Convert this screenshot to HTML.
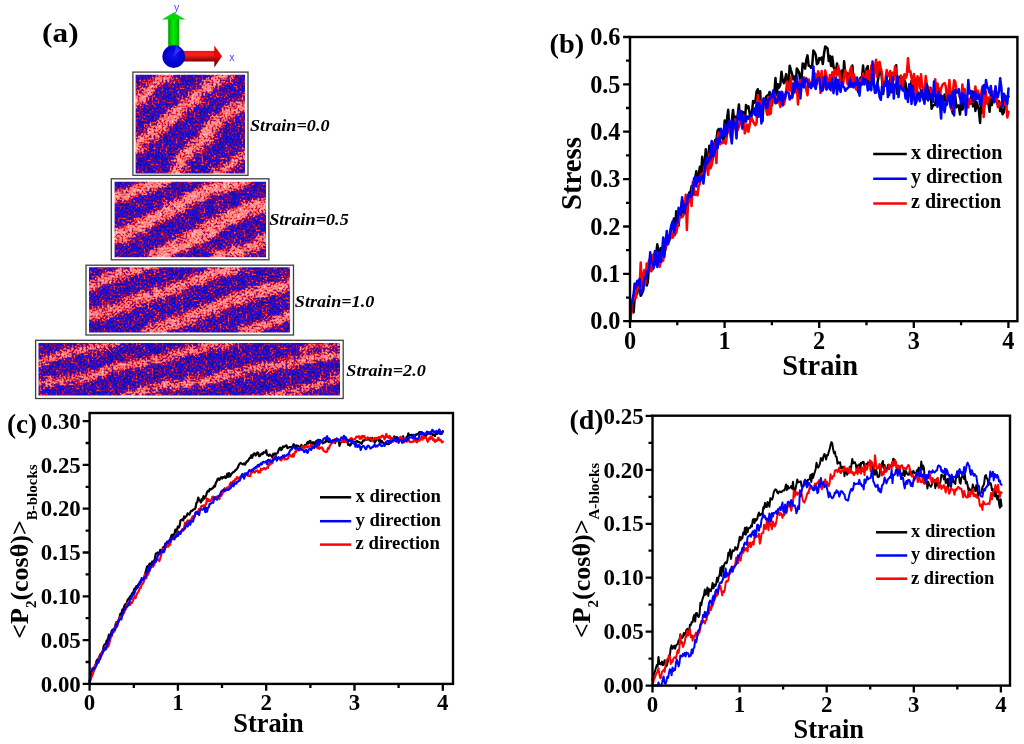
<!DOCTYPE html>
<html lang="en"><head><meta charset="utf-8"><title>Figure</title>
<style>
html,body{margin:0;padding:0;background:#fff}
body{width:1024px;height:744px;overflow:hidden}
svg{display:block}
svg text{font-family:'Liberation Serif',serif;font-weight:bold;fill:#000}
</style></head><body>
<svg width="1024" height="744" viewBox="0 0 1024 744">
<defs>
<linearGradient id="gG" x1="0" x2="1" y1="0" y2="0"><stop offset="0" stop-color="#009a00"/><stop offset="0.45" stop-color="#00f000"/><stop offset="1" stop-color="#00a800"/></linearGradient>
<linearGradient id="gR" x1="0" x2="0" y1="0" y2="1"><stop offset="0" stop-color="#f01010"/><stop offset="0.35" stop-color="#ff2020"/><stop offset="1" stop-color="#7a0000"/></linearGradient>
<linearGradient id="gR2" x1="0" x2="0" y1="0" y2="1"><stop offset="0" stop-color="#e00000"/><stop offset="0.5" stop-color="#e80808"/><stop offset="1" stop-color="#300000"/></linearGradient>
<radialGradient id="gB" cx="0.5" cy="0.45" r="0.6"><stop offset="0" stop-color="#1414e6"/><stop offset="0.7" stop-color="#0000cc"/><stop offset="1" stop-color="#0000a0"/></radialGradient>
<filter id="tex0" x="0" y="0" width="1" height="1" color-interpolation-filters="sRGB">
<feTurbulence type="fractalNoise" baseFrequency="0.05" numOctaves="2" seed="103" result="lf"/>
<feDisplacementMap in="SourceGraphic" in2="lf" scale="0" xChannelSelector="R" yChannelSelector="G" result="wav"/>
<feGaussianBlur in="wav" stdDeviation="3.0" result="fld"/>
<feTurbulence type="fractalNoise" baseFrequency="0.13" numOctaves="2" seed="203" result="mz"/>
<feColorMatrix in="mz" type="matrix" values="0 2.2 0 0 -0.6  0 2.2 0 0 -0.6  0 2.2 0 0 -0.6  0 0 0 0 1" result="m1"/>
<feComposite in="fld" in2="m1" operator="arithmetic" k1="0" k2="0.7" k3="0.36" k4="-0.03" result="fld2"/>
<feTurbulence type="fractalNoise" baseFrequency="0.5" numOctaves="1" seed="3" result="nz"/>
<feColorMatrix in="nz" type="matrix" values="2.6 0 0 0 -0.8  2.6 0 0 0 -0.8  2.6 0 0 0 -0.8  0 0 0 0 1" result="n1"/>
<feComposite in="fld2" in2="n1" operator="arithmetic" k1="0" k2="0.6" k3="0.4" k4="-0.05" result="sum"/>
<feComponentTransfer in="sum" result="col">
<feFuncR type="discrete" tableValues="0.03 0.05 0.08 0.26 0.46 0.72 0.95 1 1 1 1 1"/>
<feFuncG type="discrete" tableValues="0 0 0 0 0 0.04 0.20 0.40 0.50 0.56 0.64 0.74"/>
<feFuncB type="discrete" tableValues="0.62 0.8 0.85 0.60 0.40 0.25 0.22 0.40 0.50 0.56 0.64 0.74"/>
</feComponentTransfer>
<feGaussianBlur in="col" stdDeviation="0.65"/>
</filter>
<filter id="tex1" x="0" y="0" width="1" height="1" color-interpolation-filters="sRGB">
<feTurbulence type="fractalNoise" baseFrequency="0.05" numOctaves="2" seed="107" result="lf"/>
<feDisplacementMap in="SourceGraphic" in2="lf" scale="0" xChannelSelector="R" yChannelSelector="G" result="wav"/>
<feGaussianBlur in="wav" stdDeviation="2.9" result="fld"/>
<feTurbulence type="fractalNoise" baseFrequency="0.13" numOctaves="2" seed="207" result="mz"/>
<feColorMatrix in="mz" type="matrix" values="0 2.2 0 0 -0.6  0 2.2 0 0 -0.6  0 2.2 0 0 -0.6  0 0 0 0 1" result="m1"/>
<feComposite in="fld" in2="m1" operator="arithmetic" k1="0" k2="0.7" k3="0.36" k4="-0.03" result="fld2"/>
<feTurbulence type="fractalNoise" baseFrequency="0.5" numOctaves="1" seed="7" result="nz"/>
<feColorMatrix in="nz" type="matrix" values="2.6 0 0 0 -0.8  2.6 0 0 0 -0.8  2.6 0 0 0 -0.8  0 0 0 0 1" result="n1"/>
<feComposite in="fld2" in2="n1" operator="arithmetic" k1="0" k2="0.6" k3="0.4" k4="-0.05" result="sum"/>
<feComponentTransfer in="sum" result="col">
<feFuncR type="discrete" tableValues="0.03 0.05 0.08 0.26 0.46 0.72 0.95 1 1 1 1 1"/>
<feFuncG type="discrete" tableValues="0 0 0 0 0 0.04 0.20 0.40 0.50 0.56 0.64 0.74"/>
<feFuncB type="discrete" tableValues="0.62 0.8 0.85 0.60 0.40 0.25 0.22 0.40 0.50 0.56 0.64 0.74"/>
</feComponentTransfer>
<feGaussianBlur in="col" stdDeviation="0.65"/>
</filter>
<filter id="tex2" x="0" y="0" width="1" height="1" color-interpolation-filters="sRGB">
<feTurbulence type="fractalNoise" baseFrequency="0.05" numOctaves="2" seed="111" result="lf"/>
<feDisplacementMap in="SourceGraphic" in2="lf" scale="0" xChannelSelector="R" yChannelSelector="G" result="wav"/>
<feGaussianBlur in="wav" stdDeviation="2.6" result="fld"/>
<feTurbulence type="fractalNoise" baseFrequency="0.13" numOctaves="2" seed="211" result="mz"/>
<feColorMatrix in="mz" type="matrix" values="0 2.2 0 0 -0.6  0 2.2 0 0 -0.6  0 2.2 0 0 -0.6  0 0 0 0 1" result="m1"/>
<feComposite in="fld" in2="m1" operator="arithmetic" k1="0" k2="0.7" k3="0.36" k4="-0.03" result="fld2"/>
<feTurbulence type="fractalNoise" baseFrequency="0.5" numOctaves="1" seed="11" result="nz"/>
<feColorMatrix in="nz" type="matrix" values="2.6 0 0 0 -0.8  2.6 0 0 0 -0.8  2.6 0 0 0 -0.8  0 0 0 0 1" result="n1"/>
<feComposite in="fld2" in2="n1" operator="arithmetic" k1="0" k2="0.6" k3="0.4" k4="-0.05" result="sum"/>
<feComponentTransfer in="sum" result="col">
<feFuncR type="discrete" tableValues="0.03 0.05 0.08 0.26 0.46 0.72 0.95 1 1 1 1 1"/>
<feFuncG type="discrete" tableValues="0 0 0 0 0 0.04 0.20 0.40 0.50 0.56 0.64 0.74"/>
<feFuncB type="discrete" tableValues="0.62 0.8 0.85 0.60 0.40 0.25 0.22 0.40 0.50 0.56 0.64 0.74"/>
</feComponentTransfer>
<feGaussianBlur in="col" stdDeviation="0.65"/>
</filter>
<filter id="tex3" x="0" y="0" width="1" height="1" color-interpolation-filters="sRGB">
<feTurbulence type="fractalNoise" baseFrequency="0.05" numOctaves="2" seed="117" result="lf"/>
<feDisplacementMap in="SourceGraphic" in2="lf" scale="0" xChannelSelector="R" yChannelSelector="G" result="wav"/>
<feGaussianBlur in="wav" stdDeviation="2.2" result="fld"/>
<feTurbulence type="fractalNoise" baseFrequency="0.13" numOctaves="2" seed="217" result="mz"/>
<feColorMatrix in="mz" type="matrix" values="0 2.2 0 0 -0.6  0 2.2 0 0 -0.6  0 2.2 0 0 -0.6  0 0 0 0 1" result="m1"/>
<feComposite in="fld" in2="m1" operator="arithmetic" k1="0" k2="0.7" k3="0.36" k4="-0.03" result="fld2"/>
<feTurbulence type="fractalNoise" baseFrequency="0.5" numOctaves="1" seed="17" result="nz"/>
<feColorMatrix in="nz" type="matrix" values="2.6 0 0 0 -0.8  2.6 0 0 0 -0.8  2.6 0 0 0 -0.8  0 0 0 0 1" result="n1"/>
<feComposite in="fld2" in2="n1" operator="arithmetic" k1="0" k2="0.6" k3="0.4" k4="-0.05" result="sum"/>
<feComponentTransfer in="sum" result="col">
<feFuncR type="discrete" tableValues="0.03 0.05 0.08 0.26 0.46 0.72 0.95 1 1 1 1 1"/>
<feFuncG type="discrete" tableValues="0 0 0 0 0 0.04 0.20 0.40 0.50 0.56 0.64 0.74"/>
<feFuncB type="discrete" tableValues="0.62 0.8 0.85 0.60 0.40 0.25 0.22 0.40 0.50 0.56 0.64 0.74"/>
</feComponentTransfer>
<feGaussianBlur in="col" stdDeviation="0.65"/>
</filter>
</defs>
<rect width="1024" height="744" fill="#fff"/>
<g id="panel-a">
<text transform="translate(42.1 41.7) scale(1.125 1)" font-size="27.8">(a)</text>
<g>
<rect x="168.2" y="18.5" width="11" height="30" fill="url(#gG)"/>
<path d="M161.9 19.4L173.7 12.4L185.4 19.4Z" fill="#00d800"/>
<rect x="183" y="50.9" width="32" height="10.6" fill="url(#gR)"/>
<path d="M214.3 45.6L222 56.2L214.3 67.4Z" fill="url(#gR2)"/>
<circle cx="173.7" cy="56.6" r="11.3" fill="url(#gB)"/>
<path d="M173.7 56.6L176 46L181 50Z" fill="#3a3aff" opacity="0.8"/>
<text x="174" y="10.5" style="font-family:'Liberation Sans',sans-serif;font-weight:normal;fill:#4848ff" font-size="10.5">y</text>
<text x="229.3" y="60.6" style="font-family:'Liberation Sans',sans-serif;font-weight:normal;fill:#4848ff" font-size="10.5">x</text>
</g>
<rect x="132.9" y="72.1" width="115.1" height="103.2" fill="#fff" stroke="#404040" stroke-width="1.3"/>
<clipPath id="cp0"><rect x="135.6" y="74.8" width="109.4" height="98.6"/></clipPath>
<g clip-path="url(#cp0)"><g filter="url(#tex0)">
<rect x="129.6" y="68.8" width="121.4" height="110.6" fill="#000"/>
<path d="M130 105.5L135.8 101.2L146 93.9L153.2 84.5L166.3 75.8L172 71" stroke="#fff" stroke-width="10.2" fill="none" stroke-linejoin="round"/>
<path d="M129 147L135.8 144L148.9 135.3L163.4 125.1L176.4 113.5L188 104.1L199.6 93.2L212.7 83.1L224.3 75.8L231 71" stroke="#fff" stroke-width="12" fill="none" stroke-linejoin="round"/>
<path d="M131 152L142 146" stroke="#fff" stroke-width="9.6" fill="none" stroke-linejoin="round"/>
<path d="M205 141L210 127" stroke="#fff" stroke-width="14.4" fill="none" stroke-linejoin="round"/>
<path d="M136 101L149 93" stroke="#fff" stroke-width="13.2" fill="none" stroke-linejoin="round"/>
<path d="M176.5 177L177.9 170.1L180.8 158.5L193.8 149.8L204 136.7L211.3 125.1L224.3 116.4L234.5 109.2L244.6 103.4L250 100" stroke="#fff" stroke-width="12" fill="none" stroke-linejoin="round"/>
<path d="M213 176L220 171.6L231.6 164.3L244.6 155.6L250 152" stroke="#fff" stroke-width="9" fill="none" stroke-linejoin="round"/>
</g></g>
<text transform="translate(250 131) scale(1.045 1)" font-size="17.4" font-style="italic">Strain=0.0</text>
<rect x="111.3" y="178.8" width="157.6" height="81" fill="#fff" stroke="#404040" stroke-width="1.3"/>
<clipPath id="cp1"><rect x="114.6" y="181.7" width="151.4" height="75.6"/></clipPath>
<g clip-path="url(#cp1)"><g filter="url(#tex1)">
<rect x="108.6" y="175.7" width="163.4" height="87.6" fill="#000"/>
<path d="M109 200.5L114.4 198.4L128.8 193.6L143.2 188L160.9 182.4L170 178" stroke="#fff" stroke-width="11.4" fill="none" stroke-linejoin="round"/>
<path d="M109 236L114.4 234.5L130.4 230.5L148 221.6L162.5 214.4L176.9 206.4L191.3 198.4L205.7 192L220.1 186.4L236.1 182.7L250 178" stroke="#fff" stroke-width="13.2" fill="none" stroke-linejoin="round"/>
<path d="M148 260L156 256.1L172.1 248.9L188.1 241.7L200.9 234.5L213.7 226.4L226.5 219.2L240.9 212.8L253.7 208L265.7 205.6L271 204.5" stroke="#fff" stroke-width="14.4" fill="none" stroke-linejoin="round"/>
<path d="M212 258.5L220.1 256.1L239.3 251.3L252.1 246.5L265.7 239.3L271 236" stroke="#fff" stroke-width="10.8" fill="none" stroke-linejoin="round"/>
<path d="M113 240L134 233" stroke="#fff" stroke-width="10.8" fill="none" stroke-linejoin="round"/>
<path d="M193 239L214 227" stroke="#fff" stroke-width="18" fill="none" stroke-linejoin="round"/>
</g></g>
<text transform="translate(269.2 225.3) scale(1.045 1)" font-size="17.4" font-style="italic">Strain=0.5</text>
<rect x="86" y="265.2" width="207.5" height="69.8" fill="#fff" stroke="#404040" stroke-width="1.3"/>
<clipPath id="cp2"><rect x="89" y="267.2" width="200.9" height="65.2"/></clipPath>
<g clip-path="url(#cp2)"><g filter="url(#tex2)">
<rect x="83" y="261.2" width="212.9" height="77.2" fill="#000"/>
<path d="M84 289L89.2 286.8L104.7 279.6L121.3 273.4L142 268.6L155 264" stroke="#ececec" stroke-width="9.8" fill="none" stroke-linejoin="round"/>
<path d="M84 316L89.2 314.8L110.9 310.7L131.6 302.4L152.3 295.1L173 288.9L191.7 281.7L210.3 274.4L228.9 269.2L243 263" stroke="#ececec" stroke-width="11.5" fill="none" stroke-linejoin="round"/>
<path d="M145 334L152.3 330.3L171 324.1L189.6 317.9L208.2 310.7L226.9 302.4L245.5 295.1L264.1 289.9L287.9 284.8L295 283" stroke="#ececec" stroke-width="12.6" fill="none" stroke-linejoin="round"/>
<path d="M238 335L245.5 331.4L266.2 324.1L287.9 315.8L295 313" stroke="#ececec" stroke-width="9.2" fill="none" stroke-linejoin="round"/>
</g></g>
<text transform="translate(294.8 306.6) scale(1.045 1)" font-size="17.4" font-style="italic">Strain=1.0</text>
<rect x="35.6" y="340.3" width="307.6" height="58.2" fill="#fff" stroke="#404040" stroke-width="1.3"/>
<clipPath id="cp3"><rect x="38.5" y="343.1" width="301.5" height="52.5"/></clipPath>
<g clip-path="url(#cp3)"><g filter="url(#tex3)">
<rect x="32.5" y="337.1" width="313.5" height="64.5" fill="#000"/>
<path d="M33 363.5L39.7 361.5L65.7 353L93.3 347.7L111.7 343.7L122 340" stroke="#cfcfcf" stroke-width="8.2" fill="none" stroke-linejoin="round"/>
<path d="M33 384L39.7 383L68.8 380L93.3 375.3L114.8 367.7L139.3 363.1L163.9 358.5L185.3 352.3L209.9 346.2L225 341" stroke="#cfcfcf" stroke-width="8.8" fill="none" stroke-linejoin="round"/>
<path d="M122 398L133.2 393.7L160.8 386L185.3 383L209.9 379.9L234.4 373.8L258.9 367.7L283.5 364.6L308 358.5L334 355.4L345 354" stroke="#cfcfcf" stroke-width="9.4" fill="none" stroke-linejoin="round"/>
<path d="M262 398L277.3 393.7L301.9 389.1L334 379.9L345 376" stroke="#cfcfcf" stroke-width="7.7" fill="none" stroke-linejoin="round"/>
<path d="M215 346L240 343" stroke="#cfcfcf" stroke-width="5.5" fill="none" stroke-linejoin="round"/>
<path d="M300 349L345 343" stroke="#cfcfcf" stroke-width="5.5" fill="none" stroke-linejoin="round"/>
</g></g>
<text transform="translate(346.3 376.2) scale(1.045 1)" font-size="17.4" font-style="italic">Strain=2.0</text>
</g>
<g id="panel-b">
<path d="M630.1 321.3L631.3 306L632.5 303.1L633.6 312.4L634.8 296.4L636 294.8L637.2 293.9L638.4 285L639.6 283.2L640.7 295.8L641.9 293.9L643.1 289.5L644.3 279.2L645.5 278.7L646.7 285.5L647.8 282.1L649 265L650.2 258L651.4 264.4L652.6 269.5L653.8 254.5L654.9 264.7L656.1 254.7L657.3 244.3L658.5 252L659.7 255.2L660.8 248L662 255.5L663.2 252.1L664.4 249.8L665.6 244.7L666.8 242L667.9 237.3L669.1 238.7L670.3 233.8L671.5 229.1L672.7 227.8L673.9 218.4L675 234.8L676.2 211.2L677.4 218.2L678.6 225.7L679.8 212.4L680.9 209.1L682.1 200.5L683.3 213.1L684.5 202.7L685.7 202.8L686.9 213.1L688 204.6L689.2 192.5L690.4 193.2L691.6 186.1L692.8 186.1L694 183L695.1 179.3L696.3 171.2L697.5 182.6L698.7 174.7L699.9 166.8L701 176.7L702.2 156.8L703.4 171.5L704.6 164.4L705.8 149.2L707 165.2L708.1 161.7L709.3 145.7L710.5 163.1L711.7 153.6L712.9 144.7L714.1 144L715.2 140.1L716.4 140L717.6 130.5L718.8 128.9L720 131L721.2 137.5L722.3 135.5L723.5 140.4L724.7 120.6L725.9 136.8L727.1 118.4L728.2 109.8L729.4 130.1L730.6 124.6L731.8 121.5L733 110L734.2 121.1L735.3 116.8L736.5 120.2L737.7 115.3L738.9 104.4L740.1 119.5L741.3 114.6L742.4 111.9L743.6 112.5L744.8 122.4L746 105L747.2 108.1L748.4 106.3L749.5 112L750.7 120.8L751.9 113L753.1 100.9L754.3 102.8L755.4 101.5L756.6 91.6L757.8 89.2L759 105L760.2 91.2L761.4 119.8L762.5 121.2L763.7 99.7L764.9 105.8L766.1 96.6L767.3 95.6L768.5 95.4L769.6 92L770.8 96.2L772 105.3L773.2 92.1L774.4 92.4L775.5 78.1L776.7 95.2L777.9 84.3L779.1 87.6L780.3 85L781.5 71.7L782.6 79.8L783.8 83.2L785 79.5L786.2 74.1L787.4 89.5L788.6 81.9L789.7 65.7L790.9 70.1L792.1 73.9L793.3 79.3L794.5 76.6L795.6 87.7L796.8 68.4L798 70.2L799.2 72.8L800.4 82.5L801.6 77.8L802.7 63.4L803.9 64.5L805.1 68.6L806.3 59.9L807.5 55.4L808.7 65.8L809.8 65.9L811 67.7L812.2 65.1L813.4 50.4L814.6 52.3L815.8 55L816.9 64.2L818.1 63.1L819.3 58.1L820.5 59.3L821.7 57.5L822.8 64L824 53.8L825.2 46.5L826.4 47.3L827.6 48.6L828.8 61.1L829.9 55.9L831.1 66.1L832.3 56.8L833.5 67L834.7 69.8L835.9 71.9L837 63.5L838.2 70.3L839.4 71.5L840.6 81.4L841.8 70.6L843 82.8L844.1 61.3L845.3 75.1L846.5 73L847.7 73.3L848.9 84.4L850 81.3L851.2 76.2L852.4 65.6L853.6 83.1L854.8 80.6L856 78.6L857.1 88.3L858.3 92.2L859.5 80.9L860.7 77.5L861.9 78.1L863.1 65.6L864.2 79.3L865.4 76.3L866.6 68.3L867.8 66.1L869 89.2L870.1 80L871.3 68.7L872.5 83.9L873.7 84.9L874.9 88.1L876.1 87.1L877.2 84.7L878.4 77.1L879.6 70.4L880.8 68.9L882 79.3L883.2 94.1L884.3 82.1L885.5 85.8L886.7 81.3L887.9 81.8L889.1 95.1L890.2 78.2L891.4 92.2L892.6 83.4L893.8 73.4L895 75L896.2 65.2L897.3 94L898.5 79L899.7 76.9L900.9 81.6L902.1 77.4L903.3 89.6L904.4 80.3L905.6 83.2L906.8 93.2L908 91.8L909.2 87.9L910.4 89.6L911.5 80.9L912.7 88.5L913.9 80.9L915.1 78.5L916.3 88.1L917.4 91.8L918.6 97.1L919.8 93.6L921 96.2L922.2 90.1L923.4 99.6L924.5 92.7L925.7 89.4L926.9 98.1L928.1 100.1L929.3 89.1L930.5 87.7L931.6 108.8L932.8 105.8L934 104.9L935.2 105.1L936.4 91.8L937.5 97.4L938.7 92.5L939.9 88.7L941.1 104L942.3 100.7L943.5 101L944.6 94.6L945.8 101L947 97.8L948.2 95.4L949.4 97.1L950.6 103.7L951.7 108.6L952.9 113.6L954.1 92.6L955.3 96.9L956.5 107.4L957.7 105.7L958.8 105.5L960 114.5L961.2 100.2L962.4 109.5L963.6 106L964.7 98.4L965.9 104.8L967.1 101.1L968.3 101L969.5 103L970.7 103.5L971.8 91.3L973 106.4L974.2 93.1L975.4 110.9L976.6 102.2L977.8 106L978.9 110.5L980.1 122.9L981.3 95.2L982.5 112.3L983.7 109.9L984.9 101.4L986 99.6L987.2 99.3L988.4 102.3L989.6 111.8L990.8 94.2L991.9 105L993.1 97.2L994.3 94.3L995.5 92.5L996.7 101.6L997.9 105L999 101.1L1000.2 111.2L1001.4 107.5L1002.6 114.2L1003.8 112.4L1005 104.9L1006.1 107.1L1007.3 96.3L1008.5 96.5" fill="none" stroke="#000" stroke-width="2.5" stroke-linejoin="round" stroke-linecap="round"/>
<path d="M630.1 321.3L631.3 312.7L632.5 299.5L633.6 300.4L634.8 283.7L636 297.8L637.2 286.6L638.4 287L639.6 288.6L640.7 262.6L641.9 286.5L643.1 275.9L644.3 270L645.5 283.4L646.7 263.4L647.8 270.3L649 260.3L650.2 271L651.4 271.2L652.6 255L653.8 258.1L654.9 259L656.1 253.6L657.3 252.7L658.5 259.5L659.7 266.7L660.8 261.5L662 261.3L663.2 260.7L664.4 250.2L665.6 249.9L666.8 242.5L667.9 237.8L669.1 240.1L670.3 238.9L671.5 232.6L672.7 237.7L673.9 235.3L675 229.1L676.2 232.9L677.4 227.2L678.6 222.3L679.8 211.9L680.9 217.3L682.1 217.2L683.3 215.5L684.5 211.4L685.7 194.8L686.9 230L688 201.4L689.2 201.4L690.4 195.3L691.6 206.1L692.8 182L694 188.6L695.1 195L696.3 191.7L697.5 195.3L698.7 186L699.9 183.9L701 174.8L702.2 173.8L703.4 176.2L704.6 166.3L705.8 166.5L707 166.8L708.1 174.9L709.3 153.7L710.5 168.4L711.7 165.1L712.9 158.7L714.1 152.4L715.2 143.1L716.4 163.1L717.6 136.6L718.8 132.8L720 144.4L721.2 142.1L722.3 143.1L723.5 141L724.7 142.8L725.9 143.6L727.1 133.9L728.2 131.7L729.4 122.1L730.6 136.6L731.8 141.7L733 123.8L734.2 128.5L735.3 119.3L736.5 124.1L737.7 130.1L738.9 127.3L740.1 119.3L741.3 121L742.4 128.9L743.6 115.7L744.8 133.3L746 129.3L747.2 124.5L748.4 131.8L749.5 126L750.7 118.1L751.9 118.5L753.1 121.4L754.3 123.8L755.4 125.2L756.6 122.9L757.8 95L759 116.7L760.2 101.6L761.4 117L762.5 99.5L763.7 98.8L764.9 103.3L766.1 109.8L767.3 114.8L768.5 97L769.6 114.4L770.8 113.4L772 95.3L773.2 94.5L774.4 101.9L775.5 103.2L776.7 102.1L777.9 94.8L779.1 101.3L780.3 107L781.5 100.8L782.6 92.6L783.8 104.5L785 99.9L786.2 90L787.4 81.5L788.6 89.5L789.7 90.7L790.9 76.9L792.1 97.9L793.3 92.2L794.5 84.1L795.6 83.1L796.8 86.3L798 104.5L799.2 82.3L800.4 80.2L801.6 81.8L802.7 78.7L803.9 77.2L805.1 83.8L806.3 89.8L807.5 95.2L808.7 79.4L809.8 83.1L811 82.8L812.2 86.1L813.4 77.6L814.6 73.1L815.8 74.8L816.9 84.1L818.1 71.2L819.3 74.3L820.5 92.9L821.7 71L822.8 89.2L824 86.8L825.2 70.5L826.4 75.1L827.6 81.7L828.8 83.3L829.9 74.9L831.1 90.6L832.3 72.3L833.5 78.9L834.7 69.5L835.9 73.2L837 75.4L838.2 66.1L839.4 72L840.6 82.5L841.8 83L843 84.9L844.1 75.2L845.3 70.1L846.5 77.9L847.7 84.6L848.9 78.9L850 70.6L851.2 66.8L852.4 82.9L853.6 74.1L854.8 77.1L856 89.3L857.1 83.4L858.3 80.6L859.5 81.1L860.7 79.6L861.9 79.3L863.1 73.5L864.2 82.9L865.4 83.3L866.6 70.9L867.8 79.1L869 71.1L870.1 81.9L871.3 65.6L872.5 81.7L873.7 81.1L874.9 66.4L876.1 59.7L877.2 76.9L878.4 63.1L879.6 61.9L880.8 68.5L882 73.5L883.2 89.3L884.3 84.7L885.5 79.2L886.7 70L887.9 75.4L889.1 76.1L890.2 71L891.4 85.6L892.6 72.7L893.8 79.7L895 66.4L896.2 70.9L897.3 78.5L898.5 80.4L899.7 86L900.9 75.4L902.1 89.5L903.3 81.9L904.4 74.3L905.6 78.1L906.8 75L908 58.2L909.2 71.8L910.4 71.4L911.5 77.8L912.7 84L913.9 74.1L915.1 87L916.3 101.1L917.4 76.2L918.6 78.6L919.8 88.3L921 74.2L922.2 86.7L923.4 88.6L924.5 92.2L925.7 76L926.9 85.2L928.1 87.1L929.3 88.4L930.5 89.2L931.6 95.1L932.8 91.5L934 89.7L935.2 79.3L936.4 94.3L937.5 83.5L938.7 92.4L939.9 93.5L941.1 88.6L942.3 85.1L943.5 83.7L944.6 83L945.8 86.4L947 99.4L948.2 94.9L949.4 80.1L950.6 93.4L951.7 109.7L952.9 91.9L954.1 80.3L955.3 81.6L956.5 91L957.7 90.8L958.8 93.1L960 97.8L961.2 98.8L962.4 84.6L963.6 97.9L964.7 89.2L965.9 107.6L967.1 104L968.3 107.4L969.5 98.7L970.7 102.4L971.8 100.4L973 101.9L974.2 94.7L975.4 86.5L976.6 97L977.8 90.8L978.9 95.4L980.1 99.5L981.3 93L982.5 86.3L983.7 117L984.9 95.8L986 91.8L987.2 103.9L988.4 97.8L989.6 98.2L990.8 97L991.9 97L993.1 91.4L994.3 91.9L995.5 100.3L996.7 96.5L997.9 107.2L999 104.6L1000.2 102.9L1001.4 102.4L1002.6 106.9L1003.8 97.8L1005 104.8L1006.1 102.3L1007.3 117.5L1008.5 111.8" fill="none" stroke="#ff0000" stroke-width="2.5" stroke-linejoin="round" stroke-linecap="round"/>
<path d="M630.1 321.3L631.3 303.8L632.5 299.8L633.6 293.9L634.8 283.8L636 287.6L637.2 280.7L638.4 283.9L639.6 278.8L640.7 293.8L641.9 291.2L643.1 291.2L644.3 277.8L645.5 279.3L646.7 271.5L647.8 272.5L649 269.4L650.2 252.3L651.4 262.4L652.6 262.8L653.8 268L654.9 251.1L656.1 251.5L657.3 267L658.5 257.4L659.7 252.2L660.8 262L662 252.9L663.2 237.5L664.4 256.9L665.6 241.8L666.8 230.9L667.9 244.4L669.1 240.9L670.3 230.5L671.5 224.6L672.7 221.2L673.9 232.6L675 227.2L676.2 221.7L677.4 222.4L678.6 207.7L679.8 213.6L680.9 215.1L682.1 197.2L683.3 207.1L684.5 213.1L685.7 204.2L686.9 204.5L688 195L689.2 193.7L690.4 197.1L691.6 195.1L692.8 194.6L694 178.7L695.1 176.9L696.3 186.6L697.5 177.2L698.7 178.1L699.9 181.3L701 177.3L702.2 175.4L703.4 183.6L704.6 172.6L705.8 160.1L707 157.2L708.1 162L709.3 160L710.5 153.3L711.7 140.9L712.9 156.6L714.1 153.8L715.2 150L716.4 139L717.6 148.2L718.8 137.7L720 141.8L721.2 128.7L722.3 135.7L723.5 135.4L724.7 124.4L725.9 135.7L727.1 132L728.2 122.8L729.4 120.9L730.6 128.4L731.8 143.5L733 121.4L734.2 121.5L735.3 125.1L736.5 138.4L737.7 116.9L738.9 111.1L740.1 119.7L741.3 111.2L742.4 127.7L743.6 117L744.8 120.5L746 121.7L747.2 116.4L748.4 118.6L749.5 116L750.7 115.5L751.9 115.2L753.1 112.6L754.3 108.4L755.4 115.3L756.6 103.3L757.8 117L759 103.3L760.2 105L761.4 123.4L762.5 108.2L763.7 98.3L764.9 100.4L766.1 107.8L767.3 107.7L768.5 99.2L769.6 99L770.8 94.9L772 97.3L773.2 90.6L774.4 95L775.5 102.9L776.7 103L777.9 98.9L779.1 91.9L780.3 100.4L781.5 91.7L782.6 105.5L783.8 94.7L785 98.3L786.2 91.9L787.4 92.4L788.6 93L789.7 99.6L790.9 96.3L792.1 97.5L793.3 83.5L794.5 92.6L795.6 82.8L796.8 77.3L798 88.9L799.2 84.3L800.4 98.4L801.6 85L802.7 78.1L803.9 87.4L805.1 80L806.3 78.2L807.5 82.4L808.7 86.9L809.8 83.7L811 88.3L812.2 85.4L813.4 66.4L814.6 86.4L815.8 88.9L816.9 80L818.1 78.4L819.3 77.9L820.5 86.8L821.7 91.1L822.8 90.1L824 77.4L825.2 76L826.4 89.7L827.6 87.3L828.8 83L829.9 89.3L831.1 85.7L832.3 78.5L833.5 93.2L834.7 83.7L835.9 77.5L837 94.3L838.2 80.1L839.4 88.4L840.6 91.9L841.8 81.9L843 86.7L844.1 87.2L845.3 90.8L846.5 89.3L847.7 87.9L848.9 87L850 79.3L851.2 86.7L852.4 83.5L853.6 87.4L854.8 83.3L856 84.7L857.1 77.6L858.3 85.1L859.5 95.7L860.7 82.9L861.9 84.6L863.1 77.7L864.2 84.4L865.4 79.2L866.6 80.6L867.8 90.4L869 86.9L870.1 82.9L871.3 90.3L872.5 61.4L873.7 81L874.9 92.9L876.1 92.5L877.2 83.4L878.4 87.8L879.6 96.9L880.8 99.8L882 86.7L883.2 90.8L884.3 82.9L885.5 85.1L886.7 77.1L887.9 97.1L889.1 81.4L890.2 91L891.4 91.9L892.6 77.2L893.8 98.6L895 84.7L896.2 86.3L897.3 76L898.5 97.1L899.7 86.8L900.9 86L902.1 89.3L903.3 90.7L904.4 89.4L905.6 98.6L906.8 92.9L908 102L909.2 84.2L910.4 87.9L911.5 103.9L912.7 86.8L913.9 95.8L915.1 104.7L916.3 102.1L917.4 94.1L918.6 96.8L919.8 101.1L921 90L922.2 96.4L923.4 98.4L924.5 103.7L925.7 87.9L926.9 84.4L928.1 100.4L929.3 97.2L930.5 96.2L931.6 93.7L932.8 102.1L934 81.5L935.2 96.3L936.4 95.4L937.5 106.8L938.7 91.4L939.9 102L941.1 118.6L942.3 96L943.5 105.6L944.6 112.2L945.8 102.6L947 104.7L948.2 95.4L949.4 95.2L950.6 107.5L951.7 96.6L952.9 91.8L954.1 115.4L955.3 90.1L956.5 92.8L957.7 91.8L958.8 89.1L960 96.8L961.2 103.9L962.4 93.3L963.6 101.4L964.7 95.3L965.9 114.8L967.1 101L968.3 80.1L969.5 93.5L970.7 91L971.8 95.8L973 101L974.2 91.8L975.4 92.5L976.6 99.4L977.8 97.6L978.9 94.7L980.1 104.6L981.3 104.2L982.5 89.6L983.7 85.3L984.9 93.7L986 80.1L987.2 86.7L988.4 88.9L989.6 92.9L990.8 86L991.9 96.8L993.1 96.6L994.3 102.3L995.5 86.2L996.7 96.3L997.9 97L999 90.9L1000.2 78.3L1001.4 87.8L1002.6 105.9L1003.8 93.7L1005 95.9L1006.1 101.1L1007.3 103.8L1008.5 88.5" fill="none" stroke="#0000ff" stroke-width="2.5" stroke-linejoin="round" stroke-linecap="round"/>
<rect x="630" y="37" width="387.4" height="284.2" fill="none" stroke="#000" stroke-width="2.4"/>
<path d="M630 321.2h-6.9M630 273.9h-6.9M630 226.5h-6.9M630 179.1h-6.9M630 131.7h-6.9M630 84.3h-6.9M630 37h-6.9M630 297.6h-4M630 250.2h-4M630 202.8h-4M630 155.4h-4M630 108h-4M630 60.7h-4M630 321.2v6.9M724.6 321.2v6.9M819.2 321.2v6.9M913.8 321.2v6.9M1008.4 321.2v6.9M677.3 321.2v4M771.9 321.2v4M866.5 321.2v4M961.1 321.2v4" fill="none" stroke="#000" stroke-width="2.3"/>
<g font-size="24.3" text-anchor="end">
<text x="620.5" y="329.4">0.0</text>
<text x="620.5" y="282">0.1</text>
<text x="620.5" y="234.6">0.2</text>
<text x="620.5" y="187.3">0.3</text>
<text x="620.5" y="139.9">0.4</text>
<text x="620.5" y="92.5">0.5</text>
<text x="620.5" y="45.1">0.6</text>
</g>
<g font-size="24.3" text-anchor="middle">
<text x="630" y="349.3">0</text>
<text x="724.6" y="349.3">1</text>
<text x="819.2" y="349.3">2</text>
<text x="913.8" y="349.3">3</text>
<text x="1008.4" y="349.3">4</text>
</g>
<text x="820.2" y="375.3" font-size="28.4" text-anchor="middle">Strain</text>
<text transform="translate(580.9 173.5) rotate(-90)" font-size="28.8" text-anchor="middle">Stress</text>
<text transform="translate(549.5 53.1) scale(1.04 1)" font-size="27.3">(b)</text>
<path d="M873.2 153.9H906.8" stroke="#000" stroke-width="2.5" fill="none"/>
<text x="911" y="158.6" font-size="20">x direction</text>
<path d="M873.2 178.7H906.8" stroke="#0000ff" stroke-width="2.5" fill="none"/>
<text x="911" y="183.4" font-size="20">y direction</text>
<path d="M873.2 203.5H906.8" stroke="#ff0000" stroke-width="2.5" fill="none"/>
<text x="911" y="208.2" font-size="20">z direction</text>
</g>
<g id="panel-c">
<path d="M89.6 680.9L90.5 678.2L91.4 674.7L92.2 674.3L93.1 670.6L94 670.2L94.9 666.6L95.8 663.8L96.7 660.5L97.5 659.6L98.4 659L99.3 656.9L100.2 654.5L101.1 656.2L102 652.1L102.8 651.3L103.7 646.2L104.6 644.5L105.5 646.3L106.4 641.1L107.3 640.4L108.1 637.8L109 634.6L109.9 635.9L110.8 634.8L111.7 630.7L112.6 629.7L113.4 629.4L114.3 629.4L115.2 626.4L116.1 622.8L117 621.8L117.9 623.1L118.7 621.1L119.6 616.9L120.5 613.5L121.4 614.3L122.3 609.6L123.2 609.8L124 607.1L124.9 604.6L125.8 604L126.7 603.3L127.6 600L128.5 598.8L129.3 598L130.2 596.4L131.1 595.6L132 593.4L132.9 593.5L133.8 590.5L134.6 588.5L135.5 588.4L136.4 586.1L137.3 587.5L138.2 584.6L139 584.9L139.9 581.6L140.8 581.9L141.7 579.6L142.6 579.8L143.5 578.3L144.3 577L145.2 573.4L146.1 570.7L147 566.7L147.9 566.1L148.8 565.5L149.6 563.7L150.5 564.5L151.4 563.2L152.3 561.4L153.2 563L154.1 561.4L154.9 558.2L155.8 553.7L156.7 553.6L157.6 552.5L158.5 553.4L159.4 553.5L160.2 549.8L161.1 551.4L162 552.4L162.9 547.6L163.8 546.9L164.7 546.3L165.5 543.4L166.4 543.8L167.3 541.9L168.2 542.7L169.1 540.6L170 539.9L170.8 537.5L171.7 534.8L172.6 536.5L173.5 534.3L174.4 534.6L175.3 529.7L176.1 532.1L177 529.6L177.9 526.5L178.8 527.6L179.7 525.7L180.5 520.5L181.4 519.7L182.3 519.6L183.2 520.4L184.1 516.4L185 517.8L185.8 516.7L186.7 515.8L187.6 513.3L188.5 514L189.4 514.7L190.3 512.5L191.1 510.8L192 510.9L192.9 509.9L193.8 509.3L194.7 509.1L195.6 507.7L196.4 502.8L197.3 502.2L198.2 497.5L199.1 499.8L200 500.8L200.9 502.4L201.7 499L202.6 500.3L203.5 496.1L204.4 498.5L205.3 497.2L206.2 495.1L207 492.2L207.9 491L208.8 491.5L209.7 489L210.6 489.7L211.5 488.7L212.3 488.6L213.2 487.8L214.1 485.8L215 486.6L215.9 482.6L216.8 481.4L217.6 479L218.5 478.4L219.4 479.9L220.3 478.5L221.2 477.2L222 478.5L222.9 477.2L223.8 477.6L224.7 476.4L225.6 478.1L226.5 477.2L227.3 473.5L228.2 476.8L229.1 473L230 476.6L230.9 474.9L231.8 473.4L232.6 472.8L233.5 471.9L234.4 471.7L235.3 470.2L236.2 469.7L237.1 468.6L237.9 467.5L238.8 464.9L239.7 463.7L240.6 462.8L241.5 463.5L242.4 464.3L243.2 464.2L244.1 463.3L245 464.7L245.9 462.8L246.8 461.4L247.7 461.3L248.5 459.9L249.4 458.2L250.3 458.2L251.2 455.4L252.1 457.8L253 455.1L253.8 453.6L254.7 453.4L255.6 455.5L256.5 454.2L257.4 452.4L258.3 453L259.1 456.2L260 456L260.9 454.5L261.8 453.3L262.7 454.1L263.6 452.2L264.4 452.6L265.3 452.6L266.2 450.3L267.1 454.7L268 455.1L268.8 455.8L269.7 454.4L270.6 455.7L271.5 455.7L272.4 457.6L273.3 453.7L274.1 455.1L275 453.4L275.9 454L276.8 453.4L277.7 452.9L278.6 450.2L279.4 448.4L280.3 447.7L281.2 450.1L282.1 449.1L283 446.3L283.9 446.9L284.7 446.5L285.6 445.7L286.5 445.3L287.4 448.2L288.3 447.8L289.2 447.2L290 447.1L290.9 447L291.8 447.6L292.7 446.3L293.6 444.1L294.5 446L295.3 448.4L296.2 445.3L297.1 447.5L298 445.7L298.9 446.8L299.8 448.6L300.6 446.5L301.5 444.9L302.4 446.9L303.3 447.5L304.2 446.2L305.1 444.8L305.9 446.2L306.8 443.8L307.7 441.9L308.6 443.5L309.5 441L310.4 440.8L311.2 444L312.1 443.4L313 442.2L313.9 445.7L314.8 443.7L315.6 441.7L316.5 441L317.4 440.4L318.3 439.8L319.2 440.3L320.1 440L320.9 441.1L321.8 441.8L322.7 443.3L323.6 442.9L324.5 442.1L325.4 442.2L326.2 439.8L327.1 441.3L328 439L328.9 442.2L329.8 440L330.7 441.5L331.5 441.4L332.4 441.9L333.3 440.1L334.2 440.3L335.1 443L336 440.6L336.8 440.7L337.7 439.4L338.6 439.5L339.5 445.9L340.4 443L341.3 441.9L342.1 441.4L343 440L343.9 441.9L344.8 441L345.7 440.4L346.6 440.3L347.4 441.4L348.3 444.9L349.2 444.4L350.1 445.6L351 444.1L351.9 443.1L352.7 441.2L353.6 441.7L354.5 442.6L355.4 442.4L356.3 441.2L357.1 441L358 442.2L358.9 441.8L359.8 442.4L360.7 443.2L361.6 443.8L362.4 442L363.3 440.3L364.2 440.6L365.1 439.9L366 438.9L366.9 439.8L367.7 438.5L368.6 439.5L369.5 438.4L370.4 440.8L371.3 438.5L372.2 438L373 439.9L373.9 440.1L374.8 442.8L375.7 441.2L376.6 439L377.5 438.9L378.3 439.8L379.2 441.5L380.1 439.9L381 442.4L381.9 441L382.8 442.5L383.6 443.3L384.5 444.3L385.4 442.8L386.3 443.8L387.2 444.2L388.1 443.5L388.9 444.1L389.8 441.7L390.7 440.2L391.6 438.3L392.5 439.6L393.4 439.1L394.2 436.4L395.1 437L396 440.3L396.9 437.1L397.8 437.6L398.6 440.7L399.5 439.3L400.4 439.4L401.3 438.9L402.2 439.4L403.1 436.2L403.9 439.2L404.8 441L405.7 439.1L406.6 436.9L407.5 437.1L408.4 433.3L409.2 435.4L410.1 435L411 434.9L411.9 434.7L412.8 436.2L413.7 436L414.5 436L415.4 434.6L416.3 435L417.2 433.9L418.1 434.4L419 432.4L419.8 432L420.7 433L421.6 432.1L422.5 432.7L423.4 433.6L424.3 438.1L425.1 436L426 435.9L426.9 434.5L427.8 433.4L428.7 433.6L429.6 432.9L430.4 432.5L431.3 433.8L432.2 433.7L433.1 435L434 434.8L434.9 436.1L435.7 433.6L436.6 433.7L437.5 433.9L438.4 431.8L439.3 432.5L440.2 434L441 433.1L441.9 432.6L442.8 431.1" fill="none" stroke="#000" stroke-width="2.2" stroke-linejoin="round" stroke-linecap="round"/>
<path d="M89.6 681.8L90.5 680.3L91.4 677.4L92.2 675.6L93.1 672.8L94 670.7L94.9 665.4L95.8 665.8L96.7 662.8L97.5 661.9L98.4 660.7L99.3 657.9L100.2 656.6L101.1 653.3L102 654.2L102.8 650.8L103.7 650.4L104.6 648.4L105.5 646L106.4 648.8L107.3 645L108.1 646.5L109 644.8L109.9 641L110.8 637.2L111.7 636.3L112.6 631.7L113.4 630.2L114.3 631.5L115.2 627L116.1 622.6L117 627L117.9 623.3L118.7 620.3L119.6 618.4L120.5 616.6L121.4 616.2L122.3 615.8L123.2 613.5L124 613.1L124.9 609.6L125.8 609.2L126.7 606.9L127.6 602.6L128.5 604.3L129.3 604.8L130.2 604.8L131.1 602.4L132 602.8L132.9 600.6L133.8 597.9L134.6 596.5L135.5 598.2L136.4 595.2L137.3 593.2L138.2 591.9L139 590.6L139.9 588.1L140.8 587.8L141.7 584.7L142.6 583.8L143.5 582.5L144.3 579.5L145.2 573.8L146.1 578.5L147 575.3L147.9 574.9L148.8 572.6L149.6 569.8L150.5 567L151.4 567.3L152.3 566.5L153.2 566.6L154.1 564.9L154.9 563.1L155.8 560.6L156.7 558.9L157.6 559.4L158.5 559.7L159.4 561L160.2 558.4L161.1 555.2L162 551.9L162.9 548.9L163.8 551.1L164.7 549.3L165.5 547.8L166.4 546.6L167.3 546L168.2 546.7L169.1 543L170 544.9L170.8 541.3L171.7 538.9L172.6 538.9L173.5 537.3L174.4 537.6L175.3 536.7L176.1 534.7L177 534.5L177.9 531.3L178.8 534.4L179.7 533.5L180.5 532.3L181.4 531.2L182.3 529.1L183.2 530.3L184.1 529L185 522.5L185.8 525.1L186.7 523.4L187.6 520.3L188.5 520.9L189.4 520.5L190.3 521L191.1 519.7L192 517.8L192.9 516.1L193.8 517.5L194.7 516.5L195.6 512.8L196.4 513L197.3 511.7L198.2 511.2L199.1 509L200 509.6L200.9 507.3L201.7 505.9L202.6 506.1L203.5 505.5L204.4 509L205.3 504.7L206.2 503.7L207 498.5L207.9 501.4L208.8 499.3L209.7 500.9L210.6 500.9L211.5 500.2L212.3 497L213.2 496.6L214.1 500.1L215 498.1L215.9 497.4L216.8 496.6L217.6 499.4L218.5 497.5L219.4 499L220.3 494.6L221.2 495.8L222 494.5L222.9 492.4L223.8 491.7L224.7 488.2L225.6 489.4L226.5 489.4L227.3 487.3L228.2 487.3L229.1 487.2L230 483.8L230.9 482.5L231.8 484.5L232.6 482.8L233.5 480.8L234.4 482.5L235.3 479.1L236.2 479.2L237.1 477L237.9 477.7L238.8 479L239.7 477.7L240.6 476.2L241.5 476.6L242.4 474.6L243.2 476.9L244.1 476.8L245 476.5L245.9 474.5L246.8 474.5L247.7 475.6L248.5 475.9L249.4 475.8L250.3 476.2L251.2 471.5L252.1 472.5L253 471.5L253.8 471.8L254.7 472.6L255.6 471L256.5 470.9L257.4 470.5L258.3 472.7L259.1 471.4L260 472.4L260.9 468.7L261.8 469.8L262.7 469.4L263.6 468.1L264.4 468.1L265.3 469.4L266.2 468.6L267.1 467.3L268 467.8L268.8 464.2L269.7 464.8L270.6 459.9L271.5 463.7L272.4 463.1L273.3 459L274.1 456.6L275 457.8L275.9 455.9L276.8 458.9L277.7 458.3L278.6 457.5L279.4 459.3L280.3 459.8L281.2 460.4L282.1 459L283 456.8L283.9 457.2L284.7 459.5L285.6 458.8L286.5 459.3L287.4 458.8L288.3 457.9L289.2 453.7L290 455.3L290.9 456L291.8 456.8L292.7 454.1L293.6 456.6L294.5 453.6L295.3 451.4L296.2 451.8L297.1 448.7L298 447.7L298.9 450.5L299.8 448.6L300.6 449.6L301.5 448.4L302.4 446.1L303.3 446.2L304.2 448L305.1 447.1L305.9 445.6L306.8 446.6L307.7 447.3L308.6 446.6L309.5 446.7L310.4 446.4L311.2 444.5L312.1 448L313 445.6L313.9 448.1L314.8 446.5L315.6 445.9L316.5 444.4L317.4 448.2L318.3 445.7L319.2 448.9L320.1 447.7L320.9 448.2L321.8 447.3L322.7 448.7L323.6 450.8L324.5 451.4L325.4 451.9L326.2 452L327.1 451.5L328 447.9L328.9 448.7L329.8 445.9L330.7 444.6L331.5 442.9L332.4 443.2L333.3 441.9L334.2 442.4L335.1 439L336 439.3L336.8 440.2L337.7 441.2L338.6 440.4L339.5 440.2L340.4 440.7L341.3 441.6L342.1 440.7L343 441.6L343.9 441.9L344.8 441L345.7 442L346.6 441.9L347.4 439.8L348.3 440.1L349.2 439.7L350.1 439.4L351 438L351.9 438.2L352.7 441.5L353.6 439.8L354.5 439.5L355.4 438.3L356.3 436.9L357.1 436.6L358 437L358.9 436.2L359.8 438.9L360.7 436.6L361.6 438.6L362.4 435.8L363.3 437.1L364.2 436L365.1 437.7L366 439.7L366.9 438.5L367.7 437.3L368.6 438L369.5 438.2L370.4 437.9L371.3 439.4L372.2 441.3L373 439.3L373.9 439L374.8 437.9L375.7 438.9L376.6 438.2L377.5 438.9L378.3 437.2L379.2 438L380.1 436.8L381 437.5L381.9 435.8L382.8 435.6L383.6 436.9L384.5 439.4L385.4 437L386.3 434L387.2 437.2L388.1 436.3L388.9 437.9L389.8 436L390.7 439.2L391.6 440.2L392.5 439.3L393.4 441.6L394.2 437.6L395.1 439.5L396 441.2L396.9 441.7L397.8 439.4L398.6 440L399.5 440.1L400.4 436.8L401.3 437.9L402.2 437.9L403.1 439.6L403.9 442.5L404.8 439.3L405.7 438.7L406.6 441.6L407.5 441.4L408.4 440.7L409.2 440.7L410.1 442.3L411 441.9L411.9 442L412.8 441.6L413.7 441.7L414.5 438.6L415.4 437.5L416.3 442.1L417.2 442.3L418.1 440.4L419 440.7L419.8 440.3L420.7 439.2L421.6 436.5L422.5 439.7L423.4 436L424.3 437.9L425.1 437.5L426 437.4L426.9 439.3L427.8 441.8L428.7 439.9L429.6 437.5L430.4 439L431.3 436.7L432.2 437.2L433.1 440.2L434 439.3L434.9 441.9L435.7 440.3L436.6 441L437.5 439.7L438.4 437.7L439.3 440.3L440.2 439.6L441 440.4L441.9 442.4L442.8 441.6" fill="none" stroke="#ff0000" stroke-width="2.2" stroke-linejoin="round" stroke-linecap="round"/>
<path d="M89.6 683.5L90.5 672.6L91.4 671.2L92.2 668.9L93.1 667.8L94 669.4L94.9 668.2L95.8 666.7L96.7 664.8L97.5 661.6L98.4 662.7L99.3 659.8L100.2 659L101.1 655.5L102 653.9L102.8 652.6L103.7 650.8L104.6 648L105.5 649.6L106.4 647.2L107.3 645.5L108.1 641.5L109 640.2L109.9 636.9L110.8 635.1L111.7 635.1L112.6 632.4L113.4 629.8L114.3 629.1L115.2 629.7L116.1 624.4L117 625.6L117.9 622.9L118.7 619.7L119.6 619.9L120.5 619.3L121.4 619.3L122.3 614.2L123.2 612.2L124 611.1L124.9 609.5L125.8 607.3L126.7 606.6L127.6 606.2L128.5 604.6L129.3 602.8L130.2 598.4L131.1 598.8L132 596.2L132.9 594.1L133.8 594.5L134.6 592.8L135.5 589.8L136.4 588.9L137.3 587.4L138.2 586.6L139 583.8L139.9 583.8L140.8 581.8L141.7 578L142.6 580L143.5 580L144.3 577.9L145.2 577.5L146.1 575.8L147 572.3L147.9 571.6L148.8 566.8L149.6 570.7L150.5 567.4L151.4 565.6L152.3 564.5L153.2 564.6L154.1 560.9L154.9 561L155.8 561.7L156.7 559.7L157.6 556.4L158.5 553.8L159.4 554.3L160.2 553.2L161.1 551.4L162 551.7L162.9 550.7L163.8 552.2L164.7 549.9L165.5 544.6L166.4 544.2L167.3 541.5L168.2 542.7L169.1 540.8L170 541.7L170.8 541L171.7 538.5L172.6 538.6L173.5 537.8L174.4 539.4L175.3 536.3L176.1 537L177 534.4L177.9 535.9L178.8 531.9L179.7 533.7L180.5 533.9L181.4 530.9L182.3 530.2L183.2 530.4L184.1 528.4L185 528.7L185.8 525.2L186.7 523.6L187.6 526.5L188.5 524.9L189.4 521.6L190.3 524.6L191.1 521.1L192 520.6L192.9 521.7L193.8 518.2L194.7 516.1L195.6 512.5L196.4 512L197.3 513.9L198.2 513.2L199.1 515.1L200 510.4L200.9 509.3L201.7 509.3L202.6 509.7L203.5 509L204.4 507.8L205.3 512.1L206.2 507.9L207 511.7L207.9 507.8L208.8 507.3L209.7 503.8L210.6 503.8L211.5 502.9L212.3 502.6L213.2 502.7L214.1 497.5L215 497.2L215.9 498.8L216.8 499.7L217.6 497.2L218.5 495.8L219.4 496L220.3 494.4L221.2 491.7L222 490.5L222.9 490.7L223.8 489.5L224.7 491.1L225.6 490.5L226.5 489.6L227.3 490L228.2 490L229.1 489.1L230 488.5L230.9 487.8L231.8 484.4L232.6 483.5L233.5 486.3L234.4 483.8L235.3 483.3L236.2 483.7L237.1 481.7L237.9 481.6L238.8 480.8L239.7 480.6L240.6 478.5L241.5 475.9L242.4 473.9L243.2 476.4L244.1 478.7L245 473.3L245.9 474.4L246.8 473.1L247.7 474.3L248.5 471.5L249.4 470.1L250.3 471.1L251.2 471L252.1 469.6L253 470.5L253.8 468.4L254.7 468.6L255.6 467L256.5 467.7L257.4 465.6L258.3 464.8L259.1 466.5L260 464.2L260.9 463.4L261.8 464.5L262.7 462.1L263.6 461.8L264.4 462.5L265.3 462.3L266.2 461.1L267.1 464.3L268 460L268.8 459.8L269.7 460.7L270.6 461.6L271.5 461.4L272.4 461.6L273.3 459.2L274.1 459.7L275 458.5L275.9 456.5L276.8 460.7L277.7 458.2L278.6 457.4L279.4 458.2L280.3 458.6L281.2 457.2L282.1 457.3L283 455.5L283.9 457.2L284.7 455.5L285.6 456.2L286.5 455.6L287.4 454.6L288.3 454.2L289.2 452.4L290 450.7L290.9 449.7L291.8 449.2L292.7 447.4L293.6 446.9L294.5 447.4L295.3 448.5L296.2 448.1L297.1 448.1L298 449L298.9 450.2L299.8 449.3L300.6 448.7L301.5 449.4L302.4 450L303.3 450.3L304.2 452.1L305.1 450.8L305.9 449.7L306.8 452.1L307.7 452.8L308.6 449.7L309.5 448.8L310.4 449L311.2 450L312.1 447.2L313 447.2L313.9 447.9L314.8 446.9L315.6 445.6L316.5 446.2L317.4 441.9L318.3 440L319.2 444.9L320.1 442.2L320.9 441.4L321.8 441L322.7 440.6L323.6 438.7L324.5 438.2L325.4 438.5L326.2 437.8L327.1 436.2L328 440.2L328.9 438.4L329.8 439.2L330.7 441.2L331.5 442.2L332.4 440.8L333.3 440.1L334.2 440.8L335.1 439.6L336 440.2L336.8 438.4L337.7 439.6L338.6 440.4L339.5 440.5L340.4 439.4L341.3 437.4L342.1 438.2L343 438.8L343.9 435.8L344.8 438.8L345.7 437.1L346.6 439.3L347.4 440.5L348.3 441.5L349.2 440.2L350.1 440.9L351 441.6L351.9 440.2L352.7 443.2L353.6 443.4L354.5 442.5L355.4 446.6L356.3 444.1L357.1 446.7L358 446.9L358.9 445L359.8 446.1L360.7 449.9L361.6 447.1L362.4 446.7L363.3 445.9L364.2 446.4L365.1 448.3L366 449.2L366.9 447.3L367.7 445.9L368.6 445.7L369.5 446.9L370.4 448.6L371.3 448.1L372.2 447L373 447L373.9 445.3L374.8 444.9L375.7 446.7L376.6 445.7L377.5 446.4L378.3 445.2L379.2 444.5L380.1 443.2L381 445.6L381.9 446.2L382.8 445.5L383.6 445.4L384.5 445.9L385.4 443.4L386.3 441.6L387.2 441.1L388.1 440.9L388.9 443.2L389.8 440.9L390.7 442.8L391.6 442.1L392.5 440.8L393.4 440.3L394.2 438.1L395.1 440.7L396 441.2L396.9 439.6L397.8 438.3L398.6 442.9L399.5 440.4L400.4 440.2L401.3 440.2L402.2 442.8L403.1 441.4L403.9 439.1L404.8 441L405.7 440.3L406.6 440.6L407.5 437.7L408.4 439.3L409.2 437.2L410.1 437.3L411 437.5L411.9 437.2L412.8 438.3L413.7 434.8L414.5 436L415.4 438.9L416.3 439.1L417.2 438.8L418.1 439L419 437.7L419.8 433.1L420.7 433.1L421.6 434.4L422.5 433.2L423.4 433.9L424.3 434.5L425.1 433.5L426 434.2L426.9 431.6L427.8 432.1L428.7 432L429.6 432.8L430.4 434.4L431.3 432L432.2 429.8L433.1 430.5L434 432.2L434.9 431.7L435.7 432.2L436.6 431L437.5 432.8L438.4 431.2L439.3 429.5L440.2 431.6L441 433.5L441.9 433.9L442.8 431.6" fill="none" stroke="#0000ff" stroke-width="2.2" stroke-linejoin="round" stroke-linecap="round"/>
<rect x="89.6" y="413" width="363.4" height="270.9" fill="none" stroke="#000" stroke-width="2.4"/>
<path d="M89.6 683.9h-6.9M89.6 640.1h-6.9M89.6 596.3h-6.9M89.6 552.5h-6.9M89.6 508.7h-6.9M89.6 464.9h-6.9M89.6 421.1h-6.9M89.6 662h-4M89.6 618.2h-4M89.6 574.4h-4M89.6 530.6h-4M89.6 486.8h-4M89.6 443h-4M89.6 683.9v6.9M177.9 683.9v6.9M266.2 683.9v6.9M354.5 683.9v6.9M442.8 683.9v6.9M133.8 683.9v4M222 683.9v4M310.4 683.9v4M398.6 683.9v4" fill="none" stroke="#000" stroke-width="2.3"/>
<g font-size="22.9" text-anchor="end">
<text x="80.8" y="691.6">0.00</text>
<text x="80.8" y="647.8">0.05</text>
<text x="80.8" y="604">0.10</text>
<text x="80.8" y="560.2">0.15</text>
<text x="80.8" y="516.4">0.20</text>
<text x="80.8" y="472.6">0.25</text>
<text x="80.8" y="428.8">0.30</text>
</g>
<g font-size="22.9" text-anchor="middle">
<text x="89.6" y="710.4">0</text>
<text x="177.9" y="710.4">1</text>
<text x="266.2" y="710.4">2</text>
<text x="354.5" y="710.4">3</text>
<text x="442.8" y="710.4">4</text>
</g>
<text x="268.4" y="731.7" font-size="26.4" text-anchor="middle">Strain</text>
<text transform="translate(28.1 638.8) rotate(-90)" font-size="26" text-anchor="start">&lt;P<tspan font-size="15" dy="8">2</tspan><tspan dy="-8">(cosθ)&gt;</tspan><tspan font-size="15" dy="9">B-blocks</tspan></text>
<text transform="translate(6.9 432.5) scale(1.02 1)" font-size="26.6">(c)</text>
<path d="M320 497.3H351.2" stroke="#000" stroke-width="2.5" fill="none"/>
<text x="355.6" y="502" font-size="18.7">x direction</text>
<path d="M320 521.2H351.2" stroke="#0000ff" stroke-width="2.5" fill="none"/>
<text x="355.6" y="525.9" font-size="18.7">y direction</text>
<path d="M320 544.6H351.2" stroke="#ff0000" stroke-width="2.5" fill="none"/>
<text x="355.6" y="549.3" font-size="18.7">z direction</text>
</g>
<g id="panel-d">
<path d="M652.4 680L653.3 676.9L654.1 673.2L655 671.6L655.9 668.1L656.8 665.1L657.6 666.5L658.5 656.9L659.4 664L660.3 663L661.1 664.5L662 661.6L662.9 665.3L663.7 663.8L664.6 660.3L665.5 664.3L666.4 666.4L667.2 664.1L668.1 660.5L669 656.5L669.9 655.5L670.7 647.8L671.6 645.4L672.5 648.7L673.4 647.2L674.2 645.7L675.1 648.7L676 645.8L676.8 644.5L677.7 644.3L678.6 640.4L679.5 639.8L680.3 634.3L681.2 637.3L682.1 638.1L683 636.7L683.8 633L684.7 634.9L685.6 633.1L686.4 629.8L687.3 628.8L688.2 632L689.1 632.2L689.9 624.7L690.8 625.1L691.7 622L692.6 622.3L693.4 617.4L694.3 614.7L695.2 621.6L696 613.3L696.9 613L697.8 616L698.7 617L699.5 614.6L700.4 602.7L701.3 605.3L702.2 600.2L703 597.6L703.9 595.3L704.8 589.6L705.7 594.7L706.5 593L707.4 587.4L708.3 595.9L709.1 589.1L710 590.3L710.9 591.3L711.8 587.8L712.6 582.9L713.5 588.3L714.4 584.5L715.3 586L716.1 584.3L717 577.8L717.9 581.7L718.7 576.9L719.6 574.9L720.5 567.6L721.4 575.8L722.2 566.1L723.1 571.3L724 565.4L724.9 563.1L725.7 562.3L726.6 563.3L727.5 559.9L728.4 552.7L729.2 555.5L730.1 549.5L731 558.9L731.8 553.6L732.7 550.2L733.6 550.9L734.5 550.4L735.3 547.1L736.2 548.2L737.1 549.6L738 546.6L738.8 542.1L739.7 536.8L740.6 540.2L741.4 537.3L742.3 538.5L743.2 532.6L744.1 534.1L744.9 527.8L745.8 534.7L746.7 527.3L747.6 532.3L748.4 528.6L749.3 527.9L750.2 527.8L751 525.6L751.9 526.5L752.8 520L753.7 519L754.5 523.1L755.4 519.1L756.3 520.5L757.2 519L758 515.2L758.9 512.5L759.8 515.6L760.7 514.8L761.5 513.7L762.4 514.8L763.3 507.3L764.1 508.5L765 502.8L765.9 507L766.8 507L767.6 501.9L768.5 503.9L769.4 506.8L770.3 498.3L771.1 498.5L772 499.8L772.9 497.1L773.7 492.4L774.6 490.5L775.5 489.3L776.4 489.8L777.2 492.3L778.1 493.4L779 491.7L779.9 491.3L780.7 492.2L781.6 492L782.5 490.8L783.3 490.4L784.2 490.6L785.1 488.1L786 484.4L786.8 490L787.7 485.7L788.6 488.6L789.5 488L790.3 487.5L791.2 486L792.1 488.7L793 481.8L793.8 490.6L794.7 493.2L795.6 488.3L796.4 484.4L797.3 479.4L798.2 482.5L799.1 481.9L799.9 481.8L800.8 481.4L801.7 486.5L802.6 486.9L803.4 486.4L804.3 484L805.2 481.4L806 480.8L806.9 485.7L807.8 479.9L808.7 479.6L809.5 479.3L810.4 475.1L811.3 482L812.2 473.8L813 478L813.9 474.9L814.8 472.1L815.7 468.9L816.5 462.8L817.4 467.1L818.3 467.5L819.1 465.9L820 463.3L820.9 458.1L821.8 460.1L822.6 460.7L823.5 456.2L824.4 454L825.3 456L826.1 459.6L827 455L827.9 455.2L828.7 451.9L829.6 449.3L830.5 445.1L831.4 442.1L832.2 443.1L833.1 449.1L834 453.2L834.9 451.7L835.7 456.4L836.6 457L837.5 463.7L838.3 462.1L839.2 463.1L840.1 462.2L841 468.3L841.8 468.5L842.7 466.7L843.6 467.4L844.5 476.2L845.3 469.7L846.2 469.8L847.1 474.7L848 472.6L848.8 472.7L849.7 466.7L850.6 470.5L851.4 465.1L852.3 458.9L853.2 463.2L854.1 462.9L854.9 462.2L855.8 464.5L856.7 470.1L857.6 465.6L858.4 466.1L859.3 464.2L860.2 471.1L861 462.7L861.9 463.4L862.8 461.8L863.7 462L864.5 467.7L865.4 464.9L866.3 464.1L867.2 464.4L868 462.4L868.9 463.2L869.8 464.3L870.6 461.4L871.5 462.4L872.4 465.9L873.3 474.1L874.1 468.8L875 474.8L875.9 469.9L876.8 472L877.6 476.9L878.5 477.2L879.4 476.2L880.3 468.3L881.1 467.8L882 463.1L882.9 461L883.7 468.3L884.6 465L885.5 469.9L886.4 469L887.2 468.1L888.1 464.7L889 469.1L889.9 466.3L890.7 466.4L891.6 464.4L892.5 462.5L893.3 458.8L894.2 459.4L895.1 463.7L896 462.4L896.8 469.8L897.7 470.8L898.6 466.3L899.5 466.7L900.3 473.2L901.2 479L902.1 473.4L903 474.9L903.8 470.5L904.7 476.1L905.6 470.4L906.4 472.2L907.3 474.2L908.2 474.8L909.1 474.5L909.9 469.6L910.8 471.9L911.7 474.6L912.6 472.2L913.4 470.8L914.3 473L915.2 473.1L916 473.8L916.9 470.2L917.8 471L918.7 467.6L919.5 473.4L920.4 471.6L921.3 461.6L922.2 469.5L923 465.4L923.9 467.9L924.8 478.7L925.6 481.7L926.5 479.5L927.4 488.5L928.3 481.7L929.1 485.1L930 485.7L930.9 486.8L931.8 484.9L932.6 481.5L933.5 480.2L934.4 479.9L935.3 488.2L936.1 481.8L937 485.4L937.9 481.6L938.7 486.9L939.6 484.2L940.5 481.4L941.4 474.8L942.2 475.8L943.1 475.6L944 479.4L944.9 474.4L945.7 483.1L946.6 480.3L947.5 479.1L948.3 487.7L949.2 478.9L950.1 482.5L951 486.8L951.8 481.2L952.7 476.9L953.6 481.8L954.5 483L955.3 484L956.2 475.3L957.1 477.2L958 474.5L958.8 473.5L959.7 482.4L960.6 483.7L961.4 477.6L962.3 476.5L963.2 476.3L964.1 479L964.9 474.8L965.8 483.3L966.7 481.6L967.6 484.9L968.4 490L969.3 488.4L970.2 490.3L971 492.5L971.9 490.5L972.8 484.5L973.7 487.3L974.5 488.2L975.4 491.2L976.3 485.1L977.2 486.4L978 496.4L978.9 492.3L979.8 493.5L980.6 493.3L981.5 492.4L982.4 487.1L983.3 485.9L984.1 483.7L985 476.2L985.9 475L986.8 478.6L987.6 478.9L988.5 485.2L989.4 483.1L990.3 482.7L991.1 484.5L992 490L992.9 489.1L993.7 494.8L994.6 496.2L995.5 487.5L996.4 496.9L997.2 499.4L998.1 495.6L999 503.2L999.9 507.8L1000.7 499.2L1001.6 506.2" fill="none" stroke="#000" stroke-width="2.0" stroke-linejoin="round" stroke-linecap="round"/>
<path d="M652.4 685.4L653.3 682.4L654.1 679L655 677.4L655.9 674.7L656.8 672.5L657.6 671.7L658.5 668.3L659.4 674L660.3 678.3L661.1 677.3L662 671.6L662.9 671L663.7 669.9L664.6 671.8L665.5 665L666.4 659.9L667.2 659.5L668.1 659.2L669 655L669.9 656.8L670.7 664.1L671.6 660.5L672.5 662.1L673.4 658.8L674.2 657.5L675.1 657.3L676 658.4L676.8 653.8L677.7 650.3L678.6 652.9L679.5 646.9L680.3 635.2L681.2 643.3L682.1 642L683 647L683.8 644.3L684.7 642.3L685.6 636.2L686.4 636.9L687.3 630.5L688.2 635.4L689.1 631.9L689.9 629.2L690.8 637.2L691.7 635.1L692.6 640.7L693.4 636L694.3 637.5L695.2 634.7L696 632.6L696.9 637.3L697.8 634.8L698.7 633.6L699.5 632.2L700.4 628.1L701.3 620.9L702.2 621.5L703 622L703.9 621L704.8 623.5L705.7 620.7L706.5 619.9L707.4 614.7L708.3 609.2L709.1 613.5L710 606L710.9 610L711.8 606.7L712.6 605.6L713.5 603.5L714.4 597.7L715.3 598.1L716.1 592.7L717 595.8L717.9 593.9L718.7 587.1L719.6 588.5L720.5 586L721.4 591.4L722.2 595.4L723.1 591.2L724 592.3L724.9 589.1L725.7 582.5L726.6 580.9L727.5 581.6L728.4 579.9L729.2 573.9L730.1 573.7L731 568.7L731.8 567L732.7 567.8L733.6 566.8L734.5 567.6L735.3 563.7L736.2 557.4L737.1 562.8L738 563.3L738.8 557.1L739.7 560.2L740.6 560.6L741.4 556L742.3 550.8L743.2 552.8L744.1 550.6L744.9 548L745.8 550.3L746.7 548L747.6 551.6L748.4 542.8L749.3 546.4L750.2 542.5L751 547.1L751.9 543.9L752.8 541.9L753.7 544.6L754.5 535.9L755.4 537.7L756.3 535.5L757.2 536.2L758 536.8L758.9 533.8L759.8 543.7L760.7 540.4L761.5 533.6L762.4 533.2L763.3 532.8L764.1 524.7L765 527.3L765.9 529L766.8 520.9L767.6 523.6L768.5 530.2L769.4 520.2L770.3 522.1L771.1 525.7L772 529.2L772.9 521.5L773.7 523.3L774.6 526.6L775.5 525.1L776.4 521L777.2 516.8L778.1 512L779 512.3L779.9 515.1L780.7 513.1L781.6 514.3L782.5 517.9L783.3 514.2L784.2 515.2L785.1 511.1L786 513.2L786.8 512L787.7 506.5L788.6 504.7L789.5 506.3L790.3 504.8L791.2 510.7L792.1 506.6L793 503.3L793.8 490.6L794.7 496.7L795.6 491.8L796.4 492.4L797.3 494.9L798.2 492.9L799.1 493.4L799.9 493.2L800.8 493L801.7 494.1L802.6 499.2L803.4 501.8L804.3 502.6L805.2 500.4L806 498.3L806.9 494.8L807.8 492.4L808.7 493.3L809.5 487.6L810.4 488.8L811.3 485.6L812.2 488.4L813 488.6L813.9 488.8L814.8 483.6L815.7 489.4L816.5 484.2L817.4 482.5L818.3 481.9L819.1 480.1L820 485.6L820.9 486L821.8 489.3L822.6 487L823.5 483L824.4 480.9L825.3 479.4L826.1 484.4L827 481.7L827.9 485.1L828.7 486.3L829.6 483.3L830.5 474.3L831.4 478.5L832.2 478.8L833.1 476L834 476.1L834.9 470.4L835.7 470.2L836.6 470L837.5 472.1L838.3 470.7L839.2 467.4L840.1 472.5L841 473.2L841.8 470.5L842.7 471L843.6 471.2L844.5 466.4L845.3 469.9L846.2 470.7L847.1 468.3L848 471.8L848.8 473.1L849.7 467.6L850.6 472.4L851.4 472.7L852.3 471.8L853.2 474.2L854.1 475L854.9 472.4L855.8 472.7L856.7 469.1L857.6 474.2L858.4 467L859.3 472.1L860.2 469.6L861 473.7L861.9 467.5L862.8 471.2L863.7 468.6L864.5 475.1L865.4 464.6L866.3 469.7L867.2 469.3L868 465.2L868.9 464.7L869.8 460.2L870.6 471.2L871.5 461.5L872.4 464.6L873.3 465L874.1 468.7L875 455.3L875.9 462.7L876.8 468.7L877.6 468.5L878.5 467.4L879.4 464L880.3 464.5L881.1 471.6L882 475.4L882.9 472L883.7 474.6L884.6 466.6L885.5 472.1L886.4 471.7L887.2 469.8L888.1 468.9L889 464.5L889.9 466.1L890.7 466.9L891.6 468.6L892.5 461.7L893.3 465.9L894.2 465.2L895.1 460L896 463.2L896.8 467.7L897.7 467.9L898.6 465.6L899.5 470L900.3 467.1L901.2 465.6L902.1 465.3L903 469L903.8 468.1L904.7 468L905.6 469.9L906.4 469L907.3 466.7L908.2 465L909.1 465.7L909.9 469.8L910.8 474.5L911.7 476.4L912.6 474.9L913.4 476.6L914.3 480.7L915.2 478.1L916 473.6L916.9 476.1L917.8 482.2L918.7 477.8L919.5 477.9L920.4 481.9L921.3 482.3L922.2 481.8L923 474.8L923.9 483.5L924.8 483.9L925.6 482.2L926.5 480.6L927.4 476.9L928.3 474.9L929.1 478.5L930 474.1L930.9 479.3L931.8 483.4L932.6 477.9L933.5 481.3L934.4 481.7L935.3 479.9L936.1 481.8L937 478.5L937.9 477.8L938.7 487.9L939.6 483.5L940.5 485.1L941.4 489L942.2 485.9L943.1 487.6L944 485.1L944.9 488.5L945.7 492.6L946.6 486.8L947.5 488L948.3 488.8L949.2 493.7L950.1 491.8L951 487.7L951.8 489L952.7 489.7L953.6 490.5L954.5 494.7L955.3 489.2L956.2 490.2L957.1 488.9L958 486.9L958.8 487.2L959.7 488.8L960.6 488.5L961.4 488.7L962.3 493.1L963.2 497.4L964.1 491L964.9 494.4L965.8 496.7L966.7 497.4L967.6 497.6L968.4 491.7L969.3 496.6L970.2 496.4L971 491.5L971.9 493.5L972.8 489.2L973.7 496.1L974.5 494L975.4 496.7L976.3 494.9L977.2 497.9L978 497.1L978.9 498.3L979.8 505.6L980.6 506.4L981.5 504.3L982.4 509.9L983.3 501.3L984.1 502.6L985 504.3L985.9 504.4L986.8 504.1L987.6 503.6L988.5 503.5L989.4 504.1L990.3 498.3L991.1 493L992 499.3L992.9 493.3L993.7 491L994.6 489L995.5 484.9L996.4 488.3L997.2 492.4L998.1 484.8L999 492.2L999.9 496.8L1000.7 492L1001.6 492.6" fill="none" stroke="#ff0000" stroke-width="2.0" stroke-linejoin="round" stroke-linecap="round"/>
<path d="M652.4 685.4L653.3 685.4L654.1 685.4L655 685.4L655.9 685.4L656.8 685.4L657.6 685.4L658.5 682.5L659.4 685.4L660.3 685.4L661.1 685.4L662 683L662.9 678.6L663.7 676.6L664.6 683.1L665.5 684L666.4 681.4L667.2 676.9L668.1 677.9L669 672.8L669.9 669.3L670.7 669.9L671.6 675.3L672.5 667.6L673.4 671.1L674.2 669L675.1 670L676 662.7L676.8 659.4L677.7 662.6L678.6 666.4L679.5 662.9L680.3 655.5L681.2 656.6L682.1 656.4L683 653.8L683.8 655.6L684.7 653L685.6 656.5L686.4 652.6L687.3 653.4L688.2 653.3L689.1 656.8L689.9 655.5L690.8 655.7L691.7 649.6L692.6 653.4L693.4 648.7L694.3 647.7L695.2 639.4L696 642.4L696.9 639.2L697.8 631.7L698.7 629.9L699.5 629.6L700.4 624.2L701.3 624.3L702.2 622.4L703 615L703.9 617L704.8 611.8L705.7 617.4L706.5 612.6L707.4 615.5L708.3 607.7L709.1 602.9L710 600.5L710.9 602L711.8 604.9L712.6 598L713.5 595.6L714.4 600.2L715.3 591.8L716.1 589.8L717 589.7L717.9 593.5L718.7 587L719.6 583.7L720.5 582.4L721.4 583L722.2 581.3L723.1 578.4L724 572.5L724.9 577.4L725.7 568.6L726.6 576.8L727.5 573.2L728.4 575.3L729.2 573.7L730.1 569.5L731 571.5L731.8 566.5L732.7 571.7L733.6 567.8L734.5 566.2L735.3 565.9L736.2 564.1L737.1 561.5L738 555.3L738.8 557.3L739.7 554.8L740.6 552.4L741.4 552.5L742.3 548L743.2 550L744.1 544.2L744.9 542.6L745.8 544L746.7 544.6L747.6 537.1L748.4 536.2L749.3 535.8L750.2 534.6L751 536.8L751.9 533.4L752.8 531.4L753.7 535.3L754.5 530.2L755.4 537.3L756.3 532.8L757.2 524.8L758 524.8L758.9 530.7L759.8 526.1L760.7 526.7L761.5 519.6L762.4 517.8L763.3 514L764.1 517.3L765 516.1L765.9 519.5L766.8 518.3L767.6 520L768.5 521.7L769.4 513.5L770.3 515.4L771.1 521.1L772 513.1L772.9 516.5L773.7 512.9L774.6 513.3L775.5 512.2L776.4 510.9L777.2 514.3L778.1 509L779 509.5L779.9 507.3L780.7 510.3L781.6 505.9L782.5 502.5L783.3 511.4L784.2 512.4L785.1 504.6L786 512.5L786.8 508.8L787.7 502.1L788.6 501.6L789.5 502.9L790.3 506.8L791.2 499.9L792.1 502.1L793 505.5L793.8 505.7L794.7 505.3L795.6 508.2L796.4 513.3L797.3 510.6L798.2 505.9L799.1 509L799.9 490.3L800.8 496.3L801.7 490.9L802.6 486.2L803.4 485.7L804.3 480.8L805.2 479.5L806 483.8L806.9 487.4L807.8 485.7L808.7 482.7L809.5 484L810.4 486.1L811.3 486.5L812.2 488.1L813 489.9L813.9 490.5L814.8 486L815.7 488.1L816.5 486.8L817.4 493.2L818.3 492.2L819.1 483.5L820 486.6L820.9 477.9L821.8 484.6L822.6 483.3L823.5 482.2L824.4 487.2L825.3 486L826.1 485.1L827 488.2L827.9 492.6L828.7 497.3L829.6 492.5L830.5 495.3L831.4 497.3L832.2 498.3L833.1 497.5L834 495.5L834.9 492.6L835.7 493.1L836.6 490.3L837.5 492.4L838.3 491.5L839.2 496.6L840.1 494.4L841 491.3L841.8 491.1L842.7 492.2L843.6 493.7L844.5 494.6L845.3 498.9L846.2 499.8L847.1 500L848 500.7L848.8 497.2L849.7 493.1L850.6 490.5L851.4 488.7L852.3 490.7L853.2 488.9L854.1 482.8L854.9 484.2L855.8 484.2L856.7 483.7L857.6 483.6L858.4 484L859.3 479.7L860.2 484.2L861 483.6L861.9 486.2L862.8 485.4L863.7 489.4L864.5 479.4L865.4 483.1L866.3 480.3L867.2 476.5L868 479.4L868.9 478.5L869.8 478.1L870.6 478.1L871.5 472.8L872.4 470L873.3 481.3L874.1 482.8L875 485.6L875.9 486.9L876.8 485.8L877.6 484.7L878.5 490.8L879.4 488.5L880.3 492.4L881.1 492.2L882 485.5L882.9 484.7L883.7 482.9L884.6 477.6L885.5 479.8L886.4 483.4L887.2 481.4L888.1 479L889 478.3L889.9 476.9L890.7 477.8L891.6 469.8L892.5 483.1L893.3 474.7L894.2 475.1L895.1 473.9L896 469.9L896.8 471L897.7 475.8L898.6 471.1L899.5 470L900.3 474.4L901.2 478.9L902.1 477.5L903 477.6L903.8 483.7L904.7 488.4L905.6 483.4L906.4 481L907.3 483.9L908.2 480.1L909.1 479.9L909.9 481.2L910.8 485.9L911.7 483.1L912.6 486.4L913.4 480.6L914.3 477.7L915.2 478.1L916 475.2L916.9 472.4L917.8 475.7L918.7 473.2L919.5 476.1L920.4 469.1L921.3 476.7L922.2 474.7L923 476.9L923.9 473.7L924.8 476.2L925.6 482.7L926.5 475L927.4 478.3L928.3 477.4L929.1 471.2L930 471.6L930.9 472L931.8 472.9L932.6 470.3L933.5 471.7L934.4 472.6L935.3 471.8L936.1 470.5L937 470.6L937.9 466.1L938.7 465.4L939.6 466.7L940.5 466.5L941.4 471.5L942.2 470.4L943.1 472.8L944 472.5L944.9 468.6L945.7 475L946.6 469.3L947.5 471.4L948.3 475.1L949.2 474.8L950.1 485.4L951 476.6L951.8 474.6L952.7 479.7L953.6 477L954.5 477.1L955.3 476.4L956.2 476.3L957.1 471.3L958 475L958.8 470.8L959.7 469.1L960.6 473.1L961.4 471.8L962.3 475.2L963.2 473.6L964.1 467.1L964.9 473.5L965.8 470.3L966.7 464.6L967.6 462.6L968.4 464.9L969.3 466L970.2 472.5L971 474.8L971.9 470.3L972.8 473.2L973.7 475.7L974.5 474L975.4 475.8L976.3 476L977.2 482.3L978 486L978.9 485.9L979.8 493.7L980.6 496.1L981.5 496.4L982.4 496.8L983.3 491.7L984.1 488.9L985 490.6L985.9 487.3L986.8 486.9L987.6 485L988.5 482.9L989.4 480L990.3 471.5L991.1 476.6L992 474.7L992.9 471.7L993.7 480.4L994.6 473.9L995.5 474.7L996.4 477.6L997.2 474.9L998.1 476.7L999 481.6L999.9 480.5L1000.7 484.4L1001.6 484.7" fill="none" stroke="#0000ff" stroke-width="2.0" stroke-linejoin="round" stroke-linecap="round"/>
<rect x="652.5" y="415.7" width="357.5" height="269.9" fill="none" stroke="#000" stroke-width="2.4"/>
<path d="M652.5 685.6h-6.9M652.5 631.6h-6.9M652.5 577.7h-6.9M652.5 523.8h-6.9M652.5 469.8h-6.9M652.5 415.9h-6.9M652.5 658.6h-4M652.5 604.7h-4M652.5 550.7h-4M652.5 496.8h-4M652.5 442.8h-4M652.5 685.6v6.9M739.6 685.6v6.9M826.7 685.6v6.9M913.8 685.6v6.9M1000.9 685.6v6.9M696 685.6v4M783.1 685.6v4M870.2 685.6v4M957.3 685.6v4" fill="none" stroke="#000" stroke-width="2.3"/>
<g font-size="22.9" text-anchor="end">
<text x="643.6" y="693.3">0.00</text>
<text x="643.6" y="639.3">0.05</text>
<text x="643.6" y="585.4">0.10</text>
<text x="643.6" y="531.4">0.15</text>
<text x="643.6" y="477.5">0.20</text>
<text x="643.6" y="423.5">0.25</text>
</g>
<g font-size="22.9" text-anchor="middle">
<text x="652.5" y="711.8">0</text>
<text x="739.6" y="711.8">1</text>
<text x="826.7" y="711.8">2</text>
<text x="913.8" y="711.8">3</text>
<text x="1000.9" y="711.8">4</text>
</g>
<text x="828.8" y="737.5" font-size="26.4" text-anchor="middle">Strain</text>
<text transform="translate(590.2 638.1) rotate(-90)" font-size="26" text-anchor="start">&lt;P<tspan font-size="15" dy="8">2</tspan><tspan dy="-8">(cosθ)&gt;</tspan><tspan font-size="15" dy="9">A-blocks</tspan></text>
<text transform="translate(569.4 429.3) scale(1.05 1)" font-size="26.6">(d)</text>
<path d="M876 532.3H907.2" stroke="#000" stroke-width="2.5" fill="none"/>
<text x="911" y="537.1" font-size="18.5">x direction</text>
<path d="M876 555.5H907.2" stroke="#0000ff" stroke-width="2.5" fill="none"/>
<text x="911" y="560.3" font-size="18.5">y direction</text>
<path d="M876 578.7H907.2" stroke="#ff0000" stroke-width="2.5" fill="none"/>
<text x="911" y="583.5" font-size="18.5">z direction</text>
</g>
</svg>
</body></html>
